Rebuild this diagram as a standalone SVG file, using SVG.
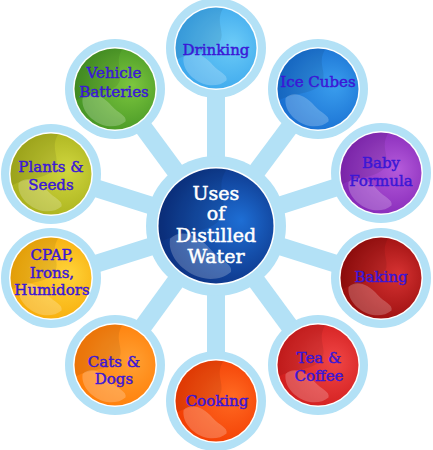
<svg xmlns="http://www.w3.org/2000/svg" xmlns:xlink="http://www.w3.org/1999/xlink" width="433" height="450" viewBox="0 0 433 450">
<style>
.ring{fill:#b3e1f6}
.rim{fill:#ffffff}
.spoke{stroke:#b3e1f6;stroke-width:18;stroke-linecap:butt}
.lbl{font-family:"DejaVu Serif","Liberation Serif",serif;font-size:15px;fill:#3b17d6;stroke:#3b17d6;stroke-width:0.45px;text-anchor:middle}
.ctr{font-family:"DejaVu Serif","Liberation Serif",serif;font-size:19px;fill:#ffffff;stroke:#ffffff;stroke-width:0.5px;text-anchor:middle}
</style>
<defs>
<radialGradient id="gCenter" cx="0.6" cy="0.5" r="0.62" fx="0.72" fy="0.45"><stop offset="0" stop-color="#1e6ed4"/><stop offset="1" stop-color="#0b2f80"/></radialGradient>
<radialGradient id="gDrink" cx="0.6" cy="0.5" r="0.62" fx="0.72" fy="0.45"><stop offset="0" stop-color="#6ccbf7"/><stop offset="1" stop-color="#3aa6ec"/></radialGradient>
<radialGradient id="gIce" cx="0.6" cy="0.5" r="0.62" fx="0.72" fy="0.45"><stop offset="0" stop-color="#3a9eee"/><stop offset="1" stop-color="#176dd0"/></radialGradient>
<radialGradient id="gBaby" cx="0.6" cy="0.5" r="0.62" fx="0.72" fy="0.45"><stop offset="0" stop-color="#b45ada"/><stop offset="1" stop-color="#8326b6"/></radialGradient>
<radialGradient id="gBake" cx="0.6" cy="0.5" r="0.62" fx="0.72" fy="0.45"><stop offset="0" stop-color="#d63232"/><stop offset="1" stop-color="#960c0c"/></radialGradient>
<radialGradient id="gTea" cx="0.6" cy="0.5" r="0.62" fx="0.72" fy="0.45"><stop offset="0" stop-color="#f04646"/><stop offset="1" stop-color="#d01c1c"/></radialGradient>
<radialGradient id="gCook" cx="0.6" cy="0.5" r="0.62" fx="0.72" fy="0.45"><stop offset="0" stop-color="#ff6a22"/><stop offset="1" stop-color="#f23c02"/></radialGradient>
<radialGradient id="gCats" cx="0.6" cy="0.5" r="0.62" fx="0.72" fy="0.45"><stop offset="0" stop-color="#ffa032"/><stop offset="1" stop-color="#ff7c06"/></radialGradient>
<radialGradient id="gCpap" cx="0.6" cy="0.5" r="0.62" fx="0.72" fy="0.45"><stop offset="0" stop-color="#ffd43a"/><stop offset="1" stop-color="#f7aa08"/></radialGradient>
<radialGradient id="gPlant" cx="0.6" cy="0.5" r="0.62" fx="0.72" fy="0.45"><stop offset="0" stop-color="#d0d63e"/><stop offset="1" stop-color="#a8b01c"/></radialGradient>
<radialGradient id="gVeh" cx="0.6" cy="0.5" r="0.62" fx="0.72" fy="0.45"><stop offset="0" stop-color="#7cc63e"/><stop offset="1" stop-color="#449424"/></radialGradient>
<g id="gloss">
<path d="M -0.96,0.28 A 1 1 0 0 1 0.18,-0.98 C -0.05,-0.62 0.28,-0.36 0.06,-0.1 C -0.16,0.14 -0.6,0.08 -0.96,0.28 Z" fill="#000" opacity="0.08"/>
<path d="M -0.8,0.22 C -0.62,0.04 -0.32,0.14 -0.08,0.42 C 0.08,0.6 0.3,0.66 0.26,0.8 C 0.12,0.92 -0.1,0.96 -0.32,0.88 C -0.62,0.76 -0.84,0.5 -0.8,0.22 Z" fill="#fff" opacity="0.22"/>
</g>
</defs>
<g id="connectors">
<line class="spoke" x1="216" y1="226" x2="216" y2="48"/>
<line class="spoke" x1="216" y1="226" x2="318" y2="89"/>
<line class="spoke" x1="216" y1="226" x2="381" y2="173"/>
<line class="spoke" x1="216" y1="226" x2="381" y2="278"/>
<line class="spoke" x1="216" y1="226" x2="318" y2="365"/>
<line class="spoke" x1="216" y1="226" x2="216" y2="401"/>
<line class="spoke" x1="216" y1="226" x2="115" y2="365"/>
<line class="spoke" x1="216" y1="226" x2="51" y2="278"/>
<line class="spoke" x1="216" y1="226" x2="51" y2="174"/>
<line class="spoke" x1="216" y1="226" x2="115" y2="89"/>
</g>
<g id="node-center">
<circle class="ring" cx="216" cy="226" r="70"/>
<circle class="rim" cx="216" cy="226" r="59"/>
<circle cx="216" cy="226" r="57.5" fill="url(#gCenter)"/>
<use xlink:href="#gloss" transform="translate(216 226) scale(57.5)"/>
<text class="ctr" x="216" y="200">Uses</text>
<text class="ctr" x="216" y="220">of</text>
<text class="ctr" x="216" y="242">Distilled</text>
<text class="ctr" x="216" y="263">Water</text>
</g>
<g id="node-drinking">
<circle class="ring" cx="216" cy="48" r="50"/>
<circle class="rim" cx="216" cy="48" r="42"/>
<circle cx="216" cy="48" r="40.5" fill="url(#gDrink)"/>
<use xlink:href="#gloss" transform="translate(216 48) scale(40.5)"/>
<text class="lbl" x="216" y="55">Drinking</text>
</g>
<g id="node-ice">
<circle class="ring" cx="318" cy="89" r="50"/>
<circle class="rim" cx="318" cy="89" r="42"/>
<circle cx="318" cy="89" r="40.5" fill="url(#gIce)"/>
<use xlink:href="#gloss" transform="translate(318 89) scale(40.5)"/>
<text class="lbl" x="318" y="87">Ice Cubes</text>
</g>
<g id="node-baby">
<circle class="ring" cx="381" cy="173" r="50"/>
<circle class="rim" cx="381" cy="173" r="42"/>
<circle cx="381" cy="173" r="40.5" fill="url(#gBaby)"/>
<use xlink:href="#gloss" transform="translate(381 173) scale(40.5)"/>
<text class="lbl" x="381" y="168">Baby</text>
<text class="lbl" x="381" y="186">Formula</text>
</g>
<g id="node-baking">
<circle class="ring" cx="381" cy="278" r="50"/>
<circle class="rim" cx="381" cy="278" r="42"/>
<circle cx="381" cy="278" r="40.5" fill="url(#gBake)"/>
<use xlink:href="#gloss" transform="translate(381 278) scale(40.5)"/>
<text class="lbl" x="381" y="282">Baking</text>
</g>
<g id="node-tea">
<circle class="ring" cx="318" cy="365" r="50"/>
<circle class="rim" cx="318" cy="365" r="42"/>
<circle cx="318" cy="365" r="40.5" fill="url(#gTea)"/>
<use xlink:href="#gloss" transform="translate(318 365) scale(40.5)"/>
<text class="lbl" x="319" y="363">Tea &amp;</text>
<text class="lbl" x="319" y="381">Coffee</text>
</g>
<g id="node-cooking">
<circle class="ring" cx="216" cy="401" r="50"/>
<circle class="rim" cx="216" cy="401" r="42"/>
<circle cx="216" cy="401" r="40.5" fill="url(#gCook)"/>
<use xlink:href="#gloss" transform="translate(216 401) scale(40.5)"/>
<text class="lbl" x="217" y="406">Cooking</text>
</g>
<g id="node-cats">
<circle class="ring" cx="115" cy="365" r="50"/>
<circle class="rim" cx="115" cy="365" r="42"/>
<circle cx="115" cy="365" r="40.5" fill="url(#gCats)"/>
<use xlink:href="#gloss" transform="translate(115 365) scale(40.5)"/>
<text class="lbl" x="114" y="367">Cats &amp;</text>
<text class="lbl" x="114" y="384">Dogs</text>
</g>
<g id="node-cpap">
<circle class="ring" cx="51" cy="278" r="50"/>
<circle class="rim" cx="51" cy="278" r="42"/>
<circle cx="51" cy="278" r="40.5" fill="url(#gCpap)"/>
<use xlink:href="#gloss" transform="translate(51 278) scale(40.5)"/>
<text class="lbl" x="52" y="260">CPAP,</text>
<text class="lbl" x="52" y="278">Irons,</text>
<text class="lbl" x="52" y="295">Humidors</text>
</g>
<g id="node-plants">
<circle class="ring" cx="51" cy="174" r="50"/>
<circle class="rim" cx="51" cy="174" r="42"/>
<circle cx="51" cy="174" r="40.5" fill="url(#gPlant)"/>
<use xlink:href="#gloss" transform="translate(51 174) scale(40.5)"/>
<text class="lbl" x="51" y="172">Plants &amp;</text>
<text class="lbl" x="51" y="190">Seeds</text>
</g>
<g id="node-vehicle">
<circle class="ring" cx="115" cy="89" r="50"/>
<circle class="rim" cx="115" cy="89" r="42"/>
<circle cx="115" cy="89" r="40.5" fill="url(#gVeh)"/>
<use xlink:href="#gloss" transform="translate(115 89) scale(40.5)"/>
<text class="lbl" x="114" y="78">Vehicle</text>
<text class="lbl" x="114" y="97">Batteries</text>
</g>
</svg>
